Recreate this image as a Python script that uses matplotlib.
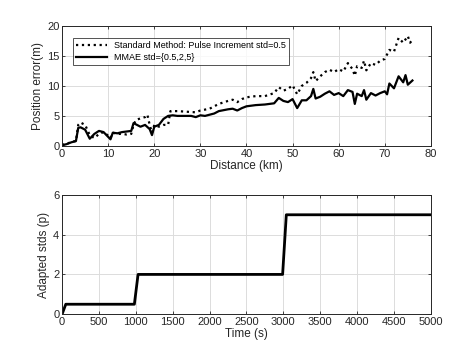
import numpy as np
import matplotlib.pyplot as plt

plt.rcParams["font.family"] = ["Liberation Sans", "DejaVu Sans"]

# top panel: position error vs distance
dist_std = [0, 1, 2, 3, 3.5, 4, 5, 6, 7, 8, 9, 10, 10.5, 11, 12, 13, 14, 15, 15.5,
            16, 17, 18, 18.5, 19, 19.5, 20, 21, 22, 23, 23.5, 25, 27, 29, 30, 32,
            34, 36, 37, 38, 39, 40, 42, 44, 46, 47, 48, 49, 50, 51, 52, 53, 54,
            54.5, 55, 56, 57, 58, 59, 60, 61, 62, 63, 63.5, 64, 65, 65.5, 66, 67,
            68, 69, 70, 71, 72, 73, 74, 75, 75.5, 76]
err_std = [0.2, 0.3, 0.7, 0.8, 3.5, 3.9, 3.5, 1.8, 1.3, 2.0, 2.3, 1.7, 1.3, 2.2,
           2.0, 2.0, 1.9, 2.0, 3.5, 4.3, 4.6, 4.8, 5.2, 3.5, 2.2, 3.5, 3.2, 3.5,
           3.5, 5.8, 5.8, 5.7, 5.6, 5.9, 6.2, 7.0, 7.5, 7.7, 7.3, 7.8, 8.1, 8.3,
           8.3, 8.8, 9.8, 9.2, 9.5, 10.1, 8.6, 10.0, 10.5, 11.3, 12.3, 10.8, 11.6,
           12.3, 12.7, 12.3, 12.8, 12.4, 13.8, 12.8, 11.7, 13.3, 13.0, 14.2, 12.6,
           13.8, 13.5, 14.2, 14.5, 16.0, 15.7, 18.0, 17.2, 18.3, 17.2, 17.7]

dist_mmae = [0, 1, 2, 3, 3.5, 4, 5, 6, 7, 8, 9, 10, 10.5, 11, 12, 13, 14, 15, 15.5,
             16, 17, 18, 19, 19.5, 20, 21, 22, 23, 24, 25, 27, 28, 29, 30, 31, 32,
             33, 34, 36, 37, 38, 39, 40, 42, 44, 46, 47, 48, 49, 50, 51, 52, 53,
             54, 54.5, 55, 56, 57, 58, 59, 60, 61, 62, 63, 63.5, 64, 65, 65.5, 66,
             67, 68, 69, 70, 70.5, 71, 72, 73, 74, 74.5, 75, 76]
err_mmae = [0.1, 0.3, 0.6, 0.8, 3.0, 3.1, 2.7, 1.2, 2.0, 2.5, 2.3, 1.5, 1.1, 2.2,
            2.1, 2.3, 2.4, 2.5, 3.8, 3.6, 3.2, 3.5, 2.8, 1.8, 3.2, 3.5, 4.5, 5.0,
            5.1, 5.0, 5.0, 5.0, 4.8, 5.1, 5.0, 5.2, 5.4, 5.8, 6.1, 6.2, 5.9, 6.3,
            6.6, 6.8, 6.9, 7.1, 8.0, 7.5, 7.3, 7.8, 6.3, 7.6, 7.6, 8.3, 9.5, 7.9,
            8.2, 8.7, 9.1, 8.5, 8.8, 8.3, 9.3, 9.0, 7.0, 8.7, 8.3, 9.3, 7.7, 8.8,
            8.4, 8.8, 9.1, 8.6, 10.4, 9.6, 11.6, 10.6, 11.8, 10.2, 10.9]

# bottom panel: adapted std vs time
t_std = [0, 50, 980, 1030, 2990, 3040, 5000]
p_std = [0, 0.5, 0.5, 2, 2, 5, 5]

txt = "#262626"
fig = plt.figure(figsize=(4.74, 3.55), dpi=100)

ax1 = fig.add_axes([0.131, 0.589, 0.778, 0.338])
ax1.plot(dist_std, err_std, color="black", linestyle=":", linewidth=1.6,
         label="Standard Method: Pulse Increment std=0.5")
ax1.plot(dist_mmae, err_mmae, color="black", linewidth=1.6,
         label="MMAE std={0.5,2,5}")
ax1.set_xlim(0, 80)
ax1.set_ylim(0, 20)
ax1.set_xticks(np.arange(0, 81, 10))
ax1.set_yticks(np.arange(0, 21, 5))
ax1.set_xlabel("Distance (km)", fontsize=8.5, color=txt, labelpad=1)
ax1.set_ylabel("Position error(m)", fontsize=8.5, color=txt, labelpad=2)
leg = ax1.legend(loc="upper left", fontsize=6.5, frameon=True, fancybox=False,
                 edgecolor=txt, borderpad=0.35, handlelength=3.4,
                 labelspacing=0.35, borderaxespad=0,
                 bbox_to_anchor=(0.03, 0.9))
leg.get_frame().set_linewidth(0.7)

ax2 = fig.add_axes([0.131, 0.115, 0.778, 0.336])
ax2.plot(t_std, p_std, color="black", linewidth=2)
ax2.set_xlim(0, 5000)
ax2.set_ylim(0, 6)
ax2.set_xticks(np.arange(0, 5001, 500))
ax2.set_yticks([0, 2, 4, 6])
ax2.set_xlabel("Time (s)", fontsize=8.5, color=txt, labelpad=1)
ax2.set_ylabel("Adapted stds (p)", fontsize=8.5, color=txt, labelpad=2)

for ax in (ax1, ax2):
    ax.grid(True, color="#dcdcdc", linewidth=0.7)
    ax.set_axisbelow(True)
    ax.tick_params(direction="in", length=2.5, width=0.6, labelsize=8,
                   colors=txt, top=True, right=True, pad=2)
    for s in ax.spines.values():
        s.set_color(txt)
        s.set_linewidth(0.7)

fig.savefig("out.png", dpi=100)
